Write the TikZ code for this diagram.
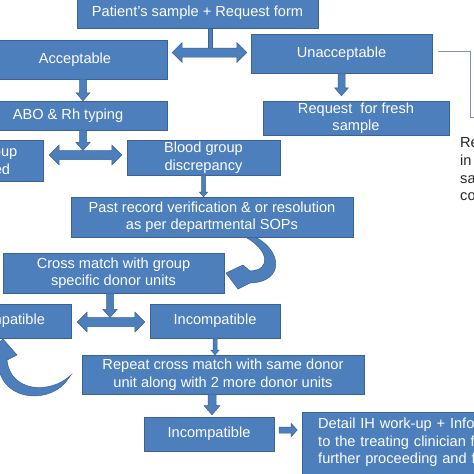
\documentclass[tikz,border=0pt]{standalone}
\usepackage{fontspec}
\setmainfont{Liberation Sans}
\usepackage{tikz}
\usetikzlibrary{calc}
\definecolor{boxblue}{RGB}{76,127,188}
\definecolor{boxedge}{RGB}{58,98,148}
\definecolor{linegray}{RGB}{118,146,184}

\newcommand{\downblock}[3]{%
  \filldraw[arrowblock] ($(#1)+(-#3,0)$) -- ($(#2)+(-#3,-2.3*#3)$) -- ($(#2)+(-2*#3,-2.3*#3)$) -- (#2)
    -- ($(#2)+(2*#3,-2.3*#3)$) -- ($(#2)+(#3,-2.3*#3)$) -- ($(#1)+(#3,0)$) -- cycle;}
\newcommand{\sideblock}[3]{%
  \filldraw[arrowblock] (#1) -- ($(#1)+(2.2*#3,-2.2*#3)$) -- ($(#1)+(2.2*#3,-#3)$) -- ($(#2)+(-2.2*#3,-#3)$)
    -- ($(#2)+(-2.2*#3,-2.2*#3)$) -- (#2) -- ($(#2)+(-2.2*#3,2.2*#3)$) -- ($(#2)+(-2.2*#3,#3)$)
    -- ($(#1)+(2.2*#3,#3)$) -- ($(#1)+(2.2*#3,2.2*#3)$) -- cycle;}
\newcommand{\rightblock}[3]{%
  \filldraw[arrowblock] ($(#1)+(0,-#3)$) -- ($(#2)+(-2*#3,-#3)$) -- ($(#2)+(-2*#3,-2.2*#3)$) -- (#2)
    -- ($(#2)+(-2*#3,2.2*#3)$) -- ($(#2)+(-2*#3,#3)$) -- ($(#1)+(0,#3)$) -- cycle;}

\begin{document}
\begin{tikzpicture}[x=1pt,y=-1pt,
  box/.style={draw=boxedge, fill=boxblue, text=white, align=center, inner sep=0pt,
    font=\fontsize{14.6}{17.5}\selectfont},
  arrowblock/.style={draw=boxedge, fill=boxblue, line width=0.5pt}]
\useasboundingbox (0,0) rectangle (474,474);
\clip (0,0) rectangle (474,474);
\fill[white] (0,0) rectangle (474,474);

\node[box, minimum width=241pt, minimum height=30pt] (pat) at (197.5,13) {Patient’s sample + Request form};
\node[box, minimum width=184pt, minimum height=39pt] (acc) at (75,59.5) {Acceptable};
\node[box, minimum width=181pt, minimum height=39pt] (unacc) at (341.5,53.5) {Unacceptable};
\node[box, minimum width=186pt, minimum height=34pt] (fresh) at (356,118) {Request~ for fresh\\sample};
\node[box, minimum width=198pt, minimum height=29pt] (abo) at (68,115.5) {ABO \& Rh typing};
\node[box, minimum width=130pt, minimum height=41pt] (grp) at (-22,160.5) {Blood group\\confirmed};
\node[box, minimum width=153pt, minimum height=35pt] (disc) at (203.5,157.5) {Blood group\\discrepancy};
\node[box, minimum width=282pt, minimum height=40pt] (past) at (212,217) {Past record verification \& or resolution\\as per departmental SOPs};
\node[box, minimum width=221pt, minimum height=40pt] (cross) at (113.5,273) {Cross match with group\\specific donor units};
\node[box, minimum width=126pt, minimum height=34pt] (comp) at (8,321) {Compatible};
\node[box, minimum width=130pt, minimum height=34pt] (inc1) at (215,321) {Incompatible};
\node[box, minimum width=282pt, minimum height=39pt] (rep) at (223,374.5) {Repeat cross match with same donor\\unit along with 2 more donor units};
\node[box, minimum width=130pt, minimum height=34pt] (inc2) at (209,434) {Incompatible};
\node[box, anchor=north west, align=left, inner xsep=16pt, inner ysep=6pt, text width=220pt,
  text depth=46pt] (detail) at (302,412) {Detail IH work-up + Information\\to the treating clinician for\\further proceeding and follow-up};
\node[anchor=north west, align=left, inner sep=0pt, text=black!85,
  font=\fontsize{14.6}{17.7}\selectfont] (note) at (460,137.5) {Re\\in\\sa\\co};

% splits
\filldraw[arrowblock] ($(pat.south)+(10.5,0)$) rectangle ($(pat.south)+(14.5,22)$);
\coordinate (dl1) at ($(acc.east)+(5,-7)$);
\coordinate (dr1) at ($(dl1 -| unacc.west)+(-4,0)$);
\sideblock{dl1}{dr1}{4.5}
\coordinate (dl2) at ($(grp.east)+(6,-5.5)$);
\coordinate (dr2) at ($(dl2 -| disc.west)+(-5,0)$);
\coordinate (dl3) at ($(comp.east)+(6,1)$);
\coordinate (dr3) at ($(dl3 -| inc1.west)+(-5,0)$);

% down arrows
\coordinate (a1) at ($(acc.south)+(8,0)$);
\downblock{a1}{a1 |- abo.north}{3.5}
\coordinate (a2) at (unacc.south);
\coordinate (b2) at ($(a2 |- fresh.north)+(0,-5)$);
\downblock{a2}{b2}{3.5}
\coordinate (a3) at ($(abo.south)+(15,0)$);
\coordinate (b3) at ($(a3 |- dl2)+(0,-4.5)$);
\downblock{a3}{b3}{3.5}
\sideblock{dl2}{dr2}{4.5}
\downblock{disc.south}{disc.south |- past.north}{2}
\coordinate (a5) at ($(cross.south)+(-3.5,0)$);
\coordinate (b5) at ($(a5 |- dl3)+(0,-4.5)$);
\downblock{a5}{b5}{3.5}
\sideblock{dl3}{dr3}{4.5}
\downblock{inc1.south}{inc1.south |- rep.north}{2}
\coordinate (a7) at ($(rep.south)+(-11,0)$);
\coordinate (b7) at ($(a7 |- inc2.north)+(0,-2)$);
\downblock{a7}{b7}{4}
\coordinate (a8) at ($(inc2.east)+(5,-4)$);
\coordinate (b8) at ($(a8)+(18,0)$);
\rightblock{a8}{b8}{3}

% curled arrows
\filldraw[arrowblock] (247,238) .. controls (268,250) and (272,270) .. (250,271) -- (243,265) -- (226,273)
  -- (238,289) -- (250,283) .. controls (285,282) and (282,250) .. (255,237) -- cycle;
\filldraw[arrowblock] (71,375) .. controls (50,395) and (10,392) .. (7,360) -- (17,355) -- (3,339)
  -- (-12,352) -- (-2,360) .. controls (-2,400) and (45,405) .. (65,383) -- cycle;

% reject line
\coordinate (brk) at (480,117);
\draw[linegray, line width=0.6pt] ($(unacc.east)+(6,-2.5)$) -| (470,117) -- (brk);
\end{tikzpicture}
\end{document}
